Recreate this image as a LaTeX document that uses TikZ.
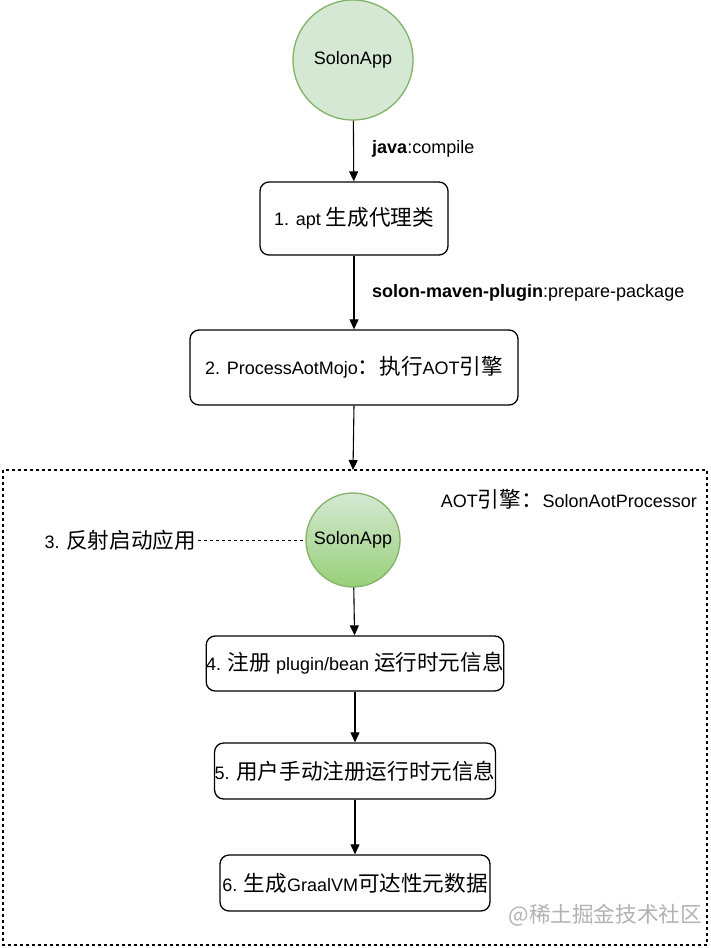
\documentclass[tikz,border=0pt]{standalone}
\usepackage{fontspec}
\setmainfont{Liberation Sans}
\newfontfamily\cjk{Noto Sans CJK SC}[Scale=1.2]
\newcommand{\zh}[1]{{\cjk #1}}
\usetikzlibrary{arrows.meta}
\definecolor{gfill}{HTML}{D5E8D4}
\definecolor{gline}{HTML}{82B366}
\definecolor{gtop}{HTML}{D5E8D4}
\definecolor{gbot}{HTML}{97D077}
\begin{document}
\begin{tikzpicture}[x=1pt,y=-1pt,
  every node/.style={font=\fontsize{18}{22}\selectfont},
  box/.style={draw,line width=1.3pt,rounded corners=9pt,fill=white,inner sep=0pt},
  arr/.style={-{Triangle[length=10pt,width=9pt]},line width=1.1pt},
  lbl/.style={anchor=west,inner sep=0pt}]
\useasboundingbox (0,0) rectangle (710,948);
\fill[white] (0,0) rectangle (710,948);
\node[circle,draw=gline,fill=gfill,line width=1.3pt,minimum size=120pt] (c1) at (353,60) {SolonApp};
\node[box,minimum width=188pt,minimum height=73pt] (b1) at (354,218.5) {1. apt \zh{生成代理类}};
\node[box,minimum width=328pt,minimum height=75pt] (b2) at (354,367.5) {2. ProcessAotMojo\zh{：执行}AOT\zh{引擎}};
\draw[dashed,line width=1.1pt] (3,470) rectangle (707,945);
\coordinate (dtop) at (353,470);
\node[anchor=east,inner sep=0pt] (aotl) at (697,499) {AOT\zh{引擎：}SolonAotProcessor};
\node[circle,draw=gline,top color=gtop,bottom color=gbot,line width=1.3pt,minimum size=94pt] (c2) at (353,540) {SolonApp};
\node[anchor=east,inner sep=2pt] (l3) at (198,540) {3. \zh{反射启动应用}};
\node[box,minimum width=280pt,minimum height=55pt] (b4) at (355,663.5) {4. \zh{注册} plugin/bean \zh{运行时元信息}};
\node[box,minimum width=270pt,minimum height=56pt] (b5) at (355,771) {5. \zh{用户手动注册运行时元信息}};
\node[box,minimum width=270pt,minimum height=56pt] (b6) at (355,883) {6. \zh{生成}GraalVM\zh{可达性元数据}};
\draw[arr] (c1) -- (b1);
\draw[arr] (b1) -- (b2);
\draw[arr] (b2.south) -- (dtop);
\draw[arr] (c2) -- (b4);
\draw[arr] (b4) -- (b5);
\draw[arr] (b5) -- (b6);
\draw[dashed] (l3.east) -- (c2.west);
\node[lbl] (j) at (372,149) {\textbf{java}:compile};
\node[lbl] (s) at (372,293) {\textbf{solon-maven-plugin}:prepare-package};
\node[anchor=east,inner sep=0pt,text=black!30] (wm) at (702,915) {\zh{@稀土掘金技术社区}};
\end{tikzpicture}
\end{document}
